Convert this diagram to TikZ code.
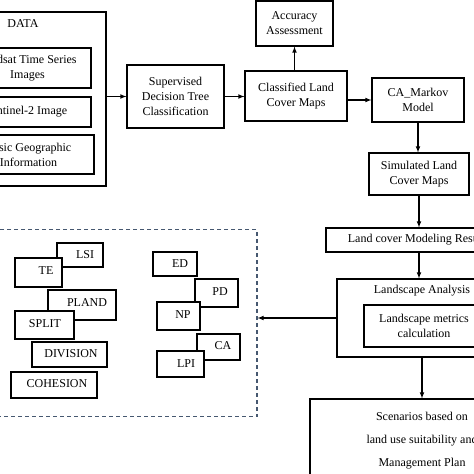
\documentclass[tikz,border=0pt]{standalone}
\usepackage{fontspec}
\setmainfont{Liberation Serif}
\usetikzlibrary{arrows,positioning}
\definecolor{dashblue}{RGB}{70,88,112}

\begin{document}
\begin{tikzpicture}[x=1pt,y=-1pt,>=latex,
  box/.style={draw,line width=1.1pt,fill=white,align=center,inner sep=0pt,font=\fontsize{12}{15}\selectfont},
  txt/.style={inner sep=0pt,font=\fontsize{12}{15}\selectfont},
  mbox/.style={draw,line width=1.1pt,fill=white},
  arr/.style={->,line width=1.1pt}]
\useasboundingbox (0,0) rectangle (474,474);
\clip (0,0) rectangle (474,474);
\fill[white] (0,0) rectangle (474,474);

% input data
\node[box,minimum width=166pt,minimum height=174pt] (data) at (23,99) {};
\node[txt] (datatitle) at (23,24) {DATA};
\node[box,minimum width=127pt,minimum height=40pt] (landsat) at (27.5,68) {Landsat Time Series\\Images};
\node[box,minimum width=130pt,minimum height=30pt] (sentinel) at (26,112) {Sentinel-2 Image};
\node[box,minimum width=131pt,minimum height=39pt] (geoinfo) at (28.5,154.5) {Basic Geographic\\Information};

% classification and simulation
\node[box,minimum width=97pt,minimum height=63pt] (dtree) at (175.5,96.5) {Supervised\\Decision Tree\\Classification};
\node[box,minimum width=77pt,minimum height=45pt] (accuracy) at (294.5,23.5) {Accuracy\\Assessment};
\node[box,minimum width=102pt,minimum height=50pt] (classif) at (296,96) {Classified Land\\Cover Maps};
\node[box,minimum width=92pt,minimum height=44pt] (markov) at (418,100) {CA\_Markov\\Model};
\node[box,minimum width=100pt,minimum height=42pt] (simul) at (419,174) {Simulated Land\\Cover Maps};
\node[box,minimum width=186pt,minimum height=24pt] (lcm) at (419,240) {Land cover Modeling Results};

% landscape analysis
\node[box,minimum width=164pt,minimum height=78pt] (lsa) at (419,318) {};
\node[txt] (lsatitle) at (422,291) {Landscape Analysis};
\node[box,minimum width=120pt,minimum height=42pt] (lsm) at (424,326) {Landscape metrics\\calculation};
\node[box,minimum width=224pt,minimum height=84pt,font=\fontsize{12}{23}\selectfont] (scen) at (422,441) {Scenarios based on\\land use suitability and\\Management Plan};

% landscape metrics
\node[draw=dashblue,dashed,dash pattern=on 4pt off 3pt,line width=1.1pt,minimum width=267pt,minimum height=187pt] (metrics) at (123.5,323) {};
\filldraw[mbox] (57,243) rectangle (103,267);
\filldraw[mbox] (15,258) rectangle (62,287);
\filldraw[mbox] (48,290) rectangle (116,320);
\filldraw[mbox] (15,311) rectangle (74,339);
\filldraw[mbox] (32,342) rectangle (107,367);
\filldraw[mbox] (11,372) rectangle (97,398);
\filldraw[mbox] (153,252) rectangle (197,276);
\filldraw[mbox] (195,279) rectangle (238,307);
\filldraw[mbox] (157,302) rectangle (200,330);
\filldraw[mbox] (197,334) rectangle (240,360);
\filldraw[mbox] (157,351) rectangle (204,377);
\node[txt] (lsi) at (85,255) {LSI};
\node[txt] (te) at (46,271) {TE};
\node[txt] (pland) at (87,303) {PLAND};
\node[txt] (split) at (45,324) {SPLIT};
\node[txt] (division) at (71,354) {DIVISION};
\node[txt] (cohesion) at (57,384) {COHESION};
\node[txt] (ed) at (180,264) {ED};
\node[txt] (pd) at (220,292) {PD};
\node[txt] (np) at (183,315) {NP};
\node[txt] (ca) at (223,346) {CA};
\node[txt] (lpi) at (186,364) {LPI};

% arrows
\draw[arr] (data.east |- dtree.west) -- (dtree.west);
\draw[arr] (dtree.east) -- (dtree.east -| classif.west);
\draw[arr] (accuracy.south |- classif.north) -- (accuracy.south);
\draw[arr] (markov.west -| classif.east) -- (markov.west);
\draw[arr] (markov.south) -- (markov.south |- simul.north);
\draw[arr] (simul) -- (lcm);
\draw[arr] (lcm) -- (lsa);
\draw[arr] (lsa.west) -- (lsa.west -| metrics.east);
\draw[arr] (scen.north |- lsa.south) -- (scen.north);
\end{tikzpicture}
\end{document}
